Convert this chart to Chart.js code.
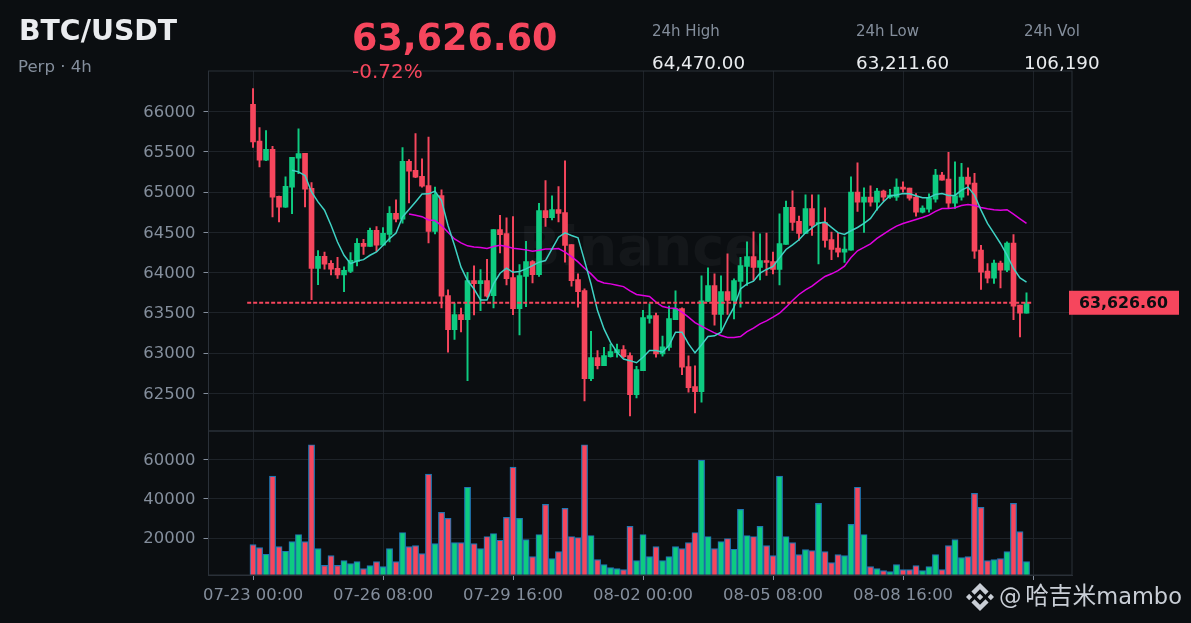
<!DOCTYPE html>
<html>
<head>
<meta charset="utf-8">
<title>BTC/USDT</title>
<script src="https://cdn.jsdelivr.net/npm/chart.js@4"></script>
<style>
  html, body { margin: 0; padding: 0; background: #0b0e11; overflow: hidden; }
  body { width: 1191px; height: 623px; position: relative; font-family: "DejaVu Sans", sans-serif; }
  canvas { position: absolute; left: 0; top: 0; }
  .t { position: absolute; white-space: nowrap; line-height: 1; }
  .stat-name { color: #848e9c; font-size: 15px; top: 24px; }
  .stat-val { color: #eaecef; font-size: 18.3px; top: 54px; }
</style>
</head>
<body>
<canvas id="kline" width="1191" height="623"></canvas>

<div class="t" style="left:19px;top:17px;font-size:28.3px;font-weight:bold;color:#eaecef">BTC/USDT</div>
<div class="t" style="left:18px;top:59px;font-size:16.6px;color:#848e9c">Perp · 4h</div>
<div class="t" style="left:352px;top:20px;font-size:36.5px;font-weight:bold;color:#f6465d">63,626.60</div>
<div class="t" style="left:352px;top:61px;font-size:20px;color:#f6465d">-0.72%</div>
<div class="t stat-name" style="left:652px">24h High</div>
<div class="t stat-val" style="left:652px">64,470.00</div>
<div class="t stat-name" style="left:856px">24h Low</div>
<div class="t stat-val" style="left:856px">63,211.60</div>
<div class="t stat-name" style="left:1024px">24h Vol</div>
<div class="t stat-val" style="left:1024px">106,190</div>

<svg style="position:absolute;left:966px;top:583px" width="28" height="28" viewBox="0 0 126.61 126.61">
  <path fill="#c9ced6" d="M38.73 53.2L63.3 28.63l24.59 24.58 14.3-14.3L63.3 0 24.42 38.88zM0 63.3l14.3-14.3 14.3 14.3-14.3 14.3zM38.73 73.41L63.3 97.98l24.59-24.59 14.31 14.29-.01.01-38.89 38.9-38.87-38.87-.02-.02zM97.99 63.31l14.3-14.3 14.3 14.3-14.3 14.3zM77.83 63.3l-14.51-14.52-10.73 10.73-1.24 1.23-2.54 2.54 14.52 14.5 14.5-14.49z"/>
</svg>
<div class="t" style="left:999px;top:585px;font-size:22.5px;color:#c9ced6;font-family:'DejaVu Sans','Noto Sans CJK SC',sans-serif">@ <span style="font-size:23.7px;margin-left:-3.5px">哈吉米</span>mambo</div>

<script>
var lastPrice = 63626.6;

var tickIndexes = [0, 20, 40, 60, 80, 100, 120];
var tickLabels = ['07-23 00:00', '07-26 08:00', '07-29 16:00', '08-02 00:00', '08-05 08:00', '08-08 16:00', ''];
var priceTicks = [62500, 63000, 63500, 64000, 64500, 65000, 65500, 66000];
var volumeTicks = [20000, 40000, 60000];

var opens = [
  66090, 65632, 65396, 65532, 64948, 64812, 65060, 65420, 65482, 65048,
  64054, 64203, 64116, 64054, 63971, 64017, 64141, 64365, 64327, 64526,
  64340, 64476, 64737, 64663, 65383, 65271, 65197, 65082, 64511, 64958,
  63716, 63293, 63480, 63418, 63902, 63865, 63902, 63716, 64535, 64486,
  63939, 63554, 63952, 64138, 63976, 64771, 64684, 64784, 64747, 64349,
  63914, 63778, 62685, 62946, 62846, 62958, 63008, 63045, 62970, 62486,
  62785, 63431, 63468, 62992, 63071, 63418, 63555, 62835, 62586, 62524,
  63642, 63841, 63481, 63766, 63655, 63890, 64077, 64201, 64064, 64151,
  64139, 64040, 64350, 64810, 64636, 64487, 64797, 64607, 64623, 64412,
  64304, 64255, 64280, 65000, 64876, 64938, 64876, 65012, 64938, 64938,
  65062, 65050, 64938, 64752, 64789, 64913, 65211, 65161, 64863, 64938,
  65186, 65112, 64280, 64019, 63932, 64118, 64031, 64367, 63597, 63497
];
var closes = [
  65623, 65396, 65532, 64936, 64812, 65073, 65433, 65478, 65035, 64054,
  64203, 64104, 64042, 63971, 64029, 64154, 64365, 64327, 64526, 64340,
  64489, 64737, 64663, 65383, 65259, 65184, 65073, 64511, 64970, 63707,
  63293, 63480, 63418, 63902, 63865, 63902, 63707, 64535, 64473, 63927,
  63554, 63964, 64138, 63976, 64771, 64684, 64784, 64734, 64337, 63902,
  63765, 62685, 62946, 62846, 62970, 63020, 63045, 62958, 62486, 62797,
  63443, 63468, 62992, 63079, 63431, 63555, 62826, 62574, 62524, 63650,
  63841, 63481, 63766, 63655, 63903, 64089, 64201, 64064, 64151, 64126,
  64040, 64362, 64810, 64623, 64487, 64797, 64586, 64623, 64400, 64288,
  64255, 64292, 65000, 64876, 64938, 64876, 65012, 64938, 64963, 65062,
  65037, 64925, 64752, 64801, 64925, 65211, 65149, 64863, 64954, 65186,
  65099, 64267, 64006, 63932, 64118, 64031, 64367, 63584, 63497, 63626.6
];
var highs = [
  66286, 65801, 65764, 65569, 64950, 65189, 65433, 65785, 65482, 65118,
  64274, 64257, 64149, 64191, 64071, 64249, 64423, 64414, 64555, 64572,
  64559, 64820, 64903, 65553, 65404, 65727, 65413, 65682, 65061, 65028,
  63786, 63620, 63562, 64005, 64084, 64038, 64167, 64535, 64713, 64680,
  64697, 64101, 64390, 64150, 64862, 65144, 64954, 65069, 65388, 64349,
  63985, 63798, 63273, 63033, 63074, 63115, 63115, 63095, 63004, 62838,
  63534, 63613, 63497, 63212, 63584, 63775, 63563, 62967, 62843, 63961,
  64060, 63986, 63961, 64234, 63924, 64189, 64383, 64507, 64482, 64491,
  64255, 64731, 64888, 65017, 64702, 64967, 64967, 64967, 64805, 64503,
  64487, 64445, 65190, 65364, 65054, 65079, 65046, 65025, 65033, 65166,
  65128, 65050, 64983, 64830, 64979, 65282, 65244, 65493, 65377, 65356,
  65302, 65232, 64338, 64114, 64155, 64143, 64383, 64474, 63597, 63750
];
var lows = [
  65553, 65313, 65390, 64692, 64630, 64810, 64733, 65230, 64816, 63665,
  63851, 64042, 63971, 63930, 63764, 64000, 64083, 64228, 64327, 64265,
  64335, 64381, 64630, 64613, 64866, 65180, 65060, 64370, 64482, 63562,
  63012, 63173, 63264, 62660, 63476, 63529, 63695, 63562, 64246, 63848,
  63480, 63227, 63579, 63873, 63952, 64573, 64655, 64631, 64130, 63832,
  63571, 62407, 62660, 62805, 62846, 62950, 62950, 62942, 62221, 62445,
  62785, 63373, 62951, 62963, 63034, 63418, 62735, 62516, 62259, 62392,
  63642, 63348, 63282, 63481, 63427, 63572, 63841, 63903, 63911, 63965,
  63986, 63849, 64350, 64524, 64400, 64487, 64462, 64110, 64317, 64160,
  64197, 64126, 64280, 64760, 64499, 64826, 64776, 64892, 64921, 64897,
  65000, 64901, 64702, 64743, 64752, 64876, 65149, 64805, 64797, 64901,
  64963, 64176, 63791, 63874, 63866, 63812, 64011, 63418, 63203, 63497
];
var volumes = [
  16750, 15210, 11790, 51630, 15720, 13330, 18290, 21880, 18290, 67700,
  14700, 6150, 11100, 6150, 8540, 7000, 8030, 4440, 5980, 8030,
  5460, 14700, 8030, 22900, 15700, 16240, 12130, 52660, 17260, 33170,
  30090, 17780, 17780, 46000, 17260, 14700, 20850, 22400, 18970, 30600,
  56250, 30090, 19300, 10600, 21880, 37270, 9570, 13160, 35220, 20850,
  20340, 67700, 21370, 9060, 6490, 4950, 4440, 3930, 26000, 8540,
  21880, 10600, 15700, 8540, 10600, 15720, 14700, 17780, 22900, 59840,
  20850, 14700, 18290, 19830, 14360, 34700, 21370, 20850, 26000, 16240,
  11110, 51630, 20850, 17780, 11620, 14190, 13670, 37780, 13160, 7520,
  11620, 11110, 27000, 46000, 21880, 5460, 4440, 3410, 2900, 6490,
  3930, 3930, 5980, 3410, 5460, 11620, 3930, 16240, 19300, 10080,
  10600, 42900, 35700, 8540, 9060, 9570, 13160, 37780, 23400, 8030
];

// short average starts at candle 6, long average at candle 24
var ma7 = [
  65271, 65251, 65205, 65002, 64878, 64775, 64588, 64381, 64216, 64112,
  64145, 64162, 64216, 64257, 64340, 64423, 64493, 64692, 64783, 64878,
  64977, 64978, 65011, 64896, 64585, 64337, 64068, 63902, 63798, 63662,
  63662, 63861, 63993, 64055, 64005, 64014, 64047, 64088, 64130, 64150,
  64295, 64440, 64494, 64461, 64432, 64150, 63860, 63529, 63302, 63136,
  63012, 62929, 62908, 62882, 62951, 63033, 63033, 63013, 63096, 63261,
  63261, 63116, 63005, 63104, 63207, 63216, 63261, 63427, 63572, 63799,
  63862, 63895, 63994, 64040, 64077, 64184, 64288, 64346, 64408, 64495,
  64557, 64615, 64627, 64563, 64497, 64474, 64520, 64561, 64611, 64673,
  64789, 64880, 64954, 64963, 64983, 64979, 64954, 64930, 64930, 64971,
  64983, 64959, 64959, 65025, 65062, 64963, 64776, 64611, 64487, 64362,
  64218, 64052, 63936, 63882
];
var ma25 = [
  64729, 64712, 64695, 64655, 64647, 64585, 64502, 64419, 64370, 64333,
  64320, 64312, 64299, 64324, 64341, 64324, 64304, 64295, 64283, 64266,
  64279, 64295, 64295, 64299, 64254, 64200, 64134, 64055, 63985, 63902,
  63873, 63861, 63844, 63827, 63775, 63730, 63717, 63704, 63634, 63580,
  63563, 63559, 63510, 63448, 63381, 63336, 63294, 63253, 63220, 63195,
  63195, 63207, 63269, 63311, 63365, 63402, 63448, 63497, 63572, 63655,
  63729, 63787, 63833, 63895, 63953, 63986, 64025, 64081, 64189, 64271,
  64313, 64358, 64425, 64478, 64532, 64578, 64611, 64636, 64661, 64685,
  64714, 64760, 64797, 64797, 64805, 64834, 64847, 64834, 64810, 64793,
  64781, 64776, 64781, 64727, 64669, 64611
];

var upColor = '#0ecb81';
var downColor = '#f6465d';

function candleColors() {
  return closes.map(function (c, i) { return c >= opens[i] ? upColor : downColor; });
}

var gridColor = '#1e2329';
var borderColor = '#2b3139';
var tickColor = '#848e9c';

// fixed margins so that the plot sits where the reference has it
function fixWidth(scale) { scale.width = 208.5; }
function fixHeight(scale) { scale.height = 48; }

// panel frames, top and right edges plus the divider
var framePlugin = {
  id: 'frame',
  afterDraw: function (chart) {
    var ctx = chart.ctx, a = chart.chartArea;
    ctx.save();
    ctx.strokeStyle = borderColor;
    ctx.lineWidth = 1;
    ctx.strokeRect(a.left, chart.scales.y.top, a.right - a.left, chart.scales.y.bottom - chart.scales.y.top);
    ctx.strokeRect(a.left, chart.scales.yVol.top, a.right - a.left, chart.scales.yVol.bottom - chart.scales.yVol.top);
    ctx.restore();

    // price tag on the right of the plot
    var y = chart.scales.y.getPixelForValue(lastPrice);
    ctx.save();
    ctx.fillStyle = downColor;
    ctx.fillRect(1069, y - 12, 110, 24);
    ctx.fillStyle = '#0b0e11';
    ctx.font = 'bold 15.8px "DejaVu Sans"';
    ctx.textAlign = 'center';
    ctx.textBaseline = 'middle';
    ctx.fillText('63,626.60', 1123.5, y + 1);
    ctx.restore();
  },
  beforeDatasetsDraw: function (chart) {
    var ctx = chart.ctx;
    ctx.save();
    ctx.fillStyle = 'rgba(255,255,255,0.04)';
    ctx.font = 'bold 54px "DejaVu Sans"';
    ctx.textAlign = 'center';
    ctx.textBaseline = 'middle';
    ctx.fillText('Binance', 640, 251);
    ctx.restore();
  }
};

var colors = candleColors();

new Chart(document.getElementById('kline').getContext('2d'), {
  type: 'bar',
  data: {
    datasets: [
      {
        type: 'line', label: 'Last', yAxisID: 'y', order: 1,
        data: [{ x: -0.9, y: lastPrice }, { x: 120, y: lastPrice }],
        borderColor: downColor, borderWidth: 2, borderDash: [4, 2], pointRadius: 0
      },
      {
        type: 'line', label: 'MA7', yAxisID: 'y', order: 2,
        data: ma7.map(function (v, k) { return { x: k + 6, y: v }; }),
        borderColor: '#3fd2c4', borderWidth: 1.5, pointRadius: 0
      },
      {
        type: 'line', label: 'MA25', yAxisID: 'y', order: 3,
        data: ma25.map(function (v, k) { return { x: k + 24, y: v }; }),
        borderColor: '#e000e0', borderWidth: 1.5, pointRadius: 0
      },
      {
        label: 'Body', yAxisID: 'y', order: 4, grouped: false, barThickness: 5,
        data: opens.map(function (o, i) { return { x: i, y: [o, closes[i]] }; }),
        backgroundColor: colors
      },
      {
        label: 'Wick', yAxisID: 'y', order: 5, grouped: false, barThickness: 1.3,
        data: highs.map(function (h, i) { return { x: i, y: [lows[i], h] }; }),
        backgroundColor: colors
      },
      {
        label: 'Volume', yAxisID: 'yVol', order: 6, grouped: false, barThickness: 6.2,
        data: volumes.map(function (v, i) { return { x: i, y: v }; }),
        backgroundColor: colors, borderColor: '#1f77b4', borderWidth: 1.2
      }
    ]
  },
  options: {
    responsive: false,
    animation: false,
    layout: { padding: { top: 71, right: 119, bottom: 0, left: 0 } },
    plugins: { legend: { display: false }, tooltip: { enabled: false } },
    scales: {
      x: {
        type: 'linear', min: -6.85, max: 126, offset: false,
        afterBuildTicks: function (scale) {
          scale.ticks = tickIndexes.map(function (v) { return { value: v }; });
        },
        afterFit: fixHeight,
        grid: { offset: false, color: gridColor, tickColor: tickColor, tickLength: 5 },
        border: { color: borderColor },
        ticks: {
          color: tickColor, font: { family: 'DejaVu Sans', size: 16.4 }, padding: 6,
          maxRotation: 0, autoSkip: false,
          callback: function (v) { return tickLabels[tickIndexes.indexOf(v)]; }
        }
      },
      yVol: {
        stack: 'panels', stackWeight: 144, min: 1200, max: 74700,
        afterBuildTicks: function (scale) {
          scale.ticks = volumeTicks.map(function (v) { return { value: v }; });
        },
        afterFit: fixWidth,
        grid: { color: gridColor, tickColor: tickColor, tickLength: 5 },
        border: { color: borderColor },
        ticks: {
          color: tickColor, font: { family: 'DejaVu Sans', size: 16.4 }, padding: 8, labelOffset: 1, autoSkip: false,
          callback: function (v) { return String(v); }
        }
      },
      y: {
        stack: 'panels', stackWeight: 360, min: 62035, max: 66503,
        afterBuildTicks: function (scale) {
          scale.ticks = priceTicks.map(function (v) { return { value: v }; });
        },
        afterFit: fixWidth,
        grid: { color: gridColor, tickColor: tickColor, tickLength: 5 },
        border: { color: borderColor },
        ticks: {
          color: tickColor, font: { family: 'DejaVu Sans', size: 16.4 }, padding: 8, labelOffset: 1, autoSkip: false,
          callback: function (v) { return String(v); }
        }
      }
    }
  },
  plugins: [framePlugin]
});
</script>
</body>
</html>
